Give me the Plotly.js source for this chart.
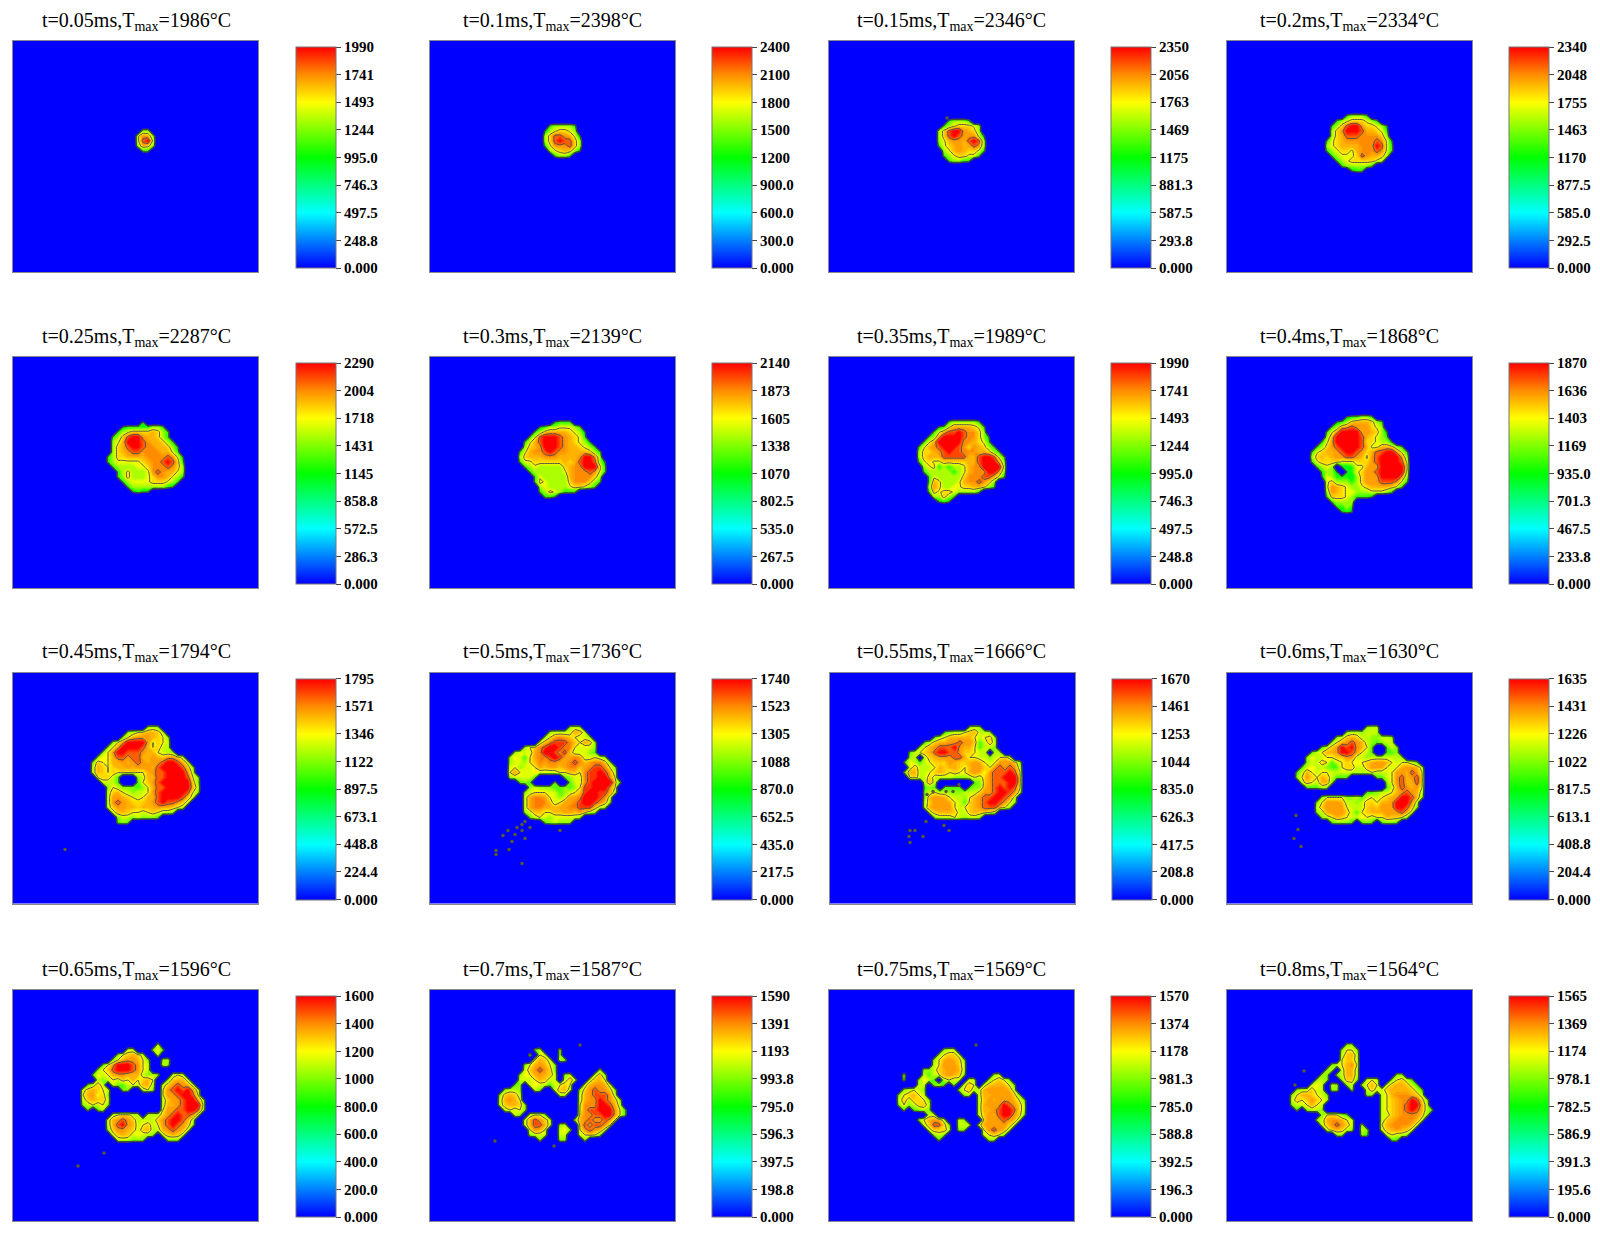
<!DOCTYPE html>
<html><head><meta charset="utf-8">
<script src="https://cdn.plot.ly/plotly-3.0.1.min.js"></script>
<style>html,body{margin:0;padding:0;background:#fff}#chart{width:1600px;height:1238px}</style>
</head><body><div id="chart"></div>
<script>
// Time stamps and peak temperatures
const times = ["0.05","0.1","0.15","0.2","0.25","0.3","0.35","0.4","0.45","0.5","0.55","0.6","0.65","0.7","0.75","0.8"];
const tmax = [1986,2398,2346,2334,2287,2139,1989,1868,1794,1736,1666,1630,1596,1587,1569,1564];
// Colour bar labels per panel
const tick01 = ["0.000","248.8","497.5","746.3","995.0","1244","1493","1741","1990"];
const tick02 = ["0.000","300.0","600.0","900.0","1200","1500","1800","2100","2400"];
const tick03 = ["0.000","293.8","587.5","881.3","1175","1469","1763","2056","2350"];
const tick04 = ["0.000","292.5","585.0","877.5","1170","1463","1755","2048","2340"];
const tick05 = ["0.000","286.3","572.5","858.8","1145","1431","1718","2004","2290"];
const tick06 = ["0.000","267.5","535.0","802.5","1070","1338","1605","1873","2140"];
const tick07 = ["0.000","248.8","497.5","746.3","995.0","1244","1493","1741","1990"];
const tick08 = ["0.000","233.8","467.5","701.3","935.0","1169","1403","1636","1870"];
const tick09 = ["0.000","224.4","448.8","673.1","897.5","1122","1346","1571","1795"];
const tick10 = ["0.000","217.5","435.0","652.5","870.0","1088","1305","1523","1740"];
const tick11 = ["0.000","208.8","417.5","626.3","835.0","1044","1253","1461","1670"];
const tick12 = ["0.000","204.4","408.8","613.1","817.5","1022","1226","1431","1635"];
const tick13 = ["0.000","200.0","400.0","600.0","800.0","1000","1200","1400","1600"];
const tick14 = ["0.000","198.8","397.5","596.3","795.0","993.8","1193","1391","1590"];
const tick15 = ["0.000","196.3","392.5","588.8","785.0","981.3","1178","1374","1570"];
const tick16 = ["0.000","195.6","391.3","586.9","782.5","978.1","1174","1369","1565"];
// Temperature class (0-9), as "row,col:classes"; the cooler classes sit higher in the later panels
const shareEarly = [0,0.46,0.54,0.66,0.73,0.79,0.83,0.86,0.92,1.0];
const shareLate = [0,0.58,0.64,0.7,0.75,0.8,0.83,0.86,0.92,1.0];
const field01 = ["8,14:33","9,13:4763","10,13:4894","11,13:3653","12,14:22"];
const field02 = ["7,12:233332","8,11:1345543","9,11:35887641","10,11:35898853","11,11:24777853","12,12:3456531","13,13:2332"];
const field03 = ["6,12:23332","7,11:23455543","8,10:358997653","9,10:3589877741","10,10:3467768983","11,10:2456766873","12,11:346765542","13,11:23455442","14,12:23322"];
const field04 = ["5,12:23332","6,10:234555432","7,9:235899755431","8,9:357999866542","9,9:356888777753","10,8:24567777778741","11,8:34566667779842","12,8:23455467778742","13,9:234445876653","14,10:2345555543","15,11:2333332","16,13:122"];
const field05 = ["3,14:1","4,10:122222332","5,9:23455556532","6,8:235899766532","7,8:3469998766532","8,8:35689987766531","9,8:35678877776642","10,7:2355666677778741","11,7:2344444567789852","12,8:233334457778753","13,9:23533347876643","14,9:23533345776432","15,10:234444555432","16,11:2333333321","17,12:1211"];
const field06 = ["3,13:1222","4,10:123344432","5,9:23566665431","6,8:248999876542","7,7:24689998765431","8,7:356799987665432","9,6:24677898776666532","10,6:35666777666679973","11,6:244555555656899831","12,7:23433333567799952","13,8:2333333467778742","14,9:24333336777753","15,9:25433335777532","16,10:343333455432","17,10:23543222","18,11:221"];
const field07 = ["3,12:2333332","4,10:1246666542","5,9:24688987753","6,8:2379999877531","7,7:24699999776542","8,6:2467899987576532","9,6:35567898877766532","10,6:356668888866899842","11,6:245445555566899973","12,7:34523233467799994","13,7:23333323467779973","14,8:2433333577788642","15,8:26533346778753","16,8:37533445566532","17,8:25455433332","18,9:33532","19,10:121"];
const field08 = ["2,12:122332","3,10:1235666532","4,9:23678777543","5,8:2479999776531","6,8:3699999865432","7,7:247999998554331","8,6:235789999864466532","9,5:24566789987568899742","10,5:35656778876478999973","11,5:24555544455578999984","12,6:2343.11244677999995","13,7:2331.1245778999994","14,7:143222135777999973","15,8:45333235777888742","16,8:4765433456666542","17,8:37654433344432","18,8:2555432221","19,9:23333","20,10:2232","21,11:121"];
const field09 = ["1,15:232","2,11:23456653","3,10:2467776542","4,8:247999974543","5,7:2479999864533","6,6:247998887664332","7,5:244688788667657753","8,4:25446676787677899863","9,4:365456676777689999852","10,4:365454545446788999973","11,5:45531...2366889999842","12,6:3331...1457899999952","13,7:2432221246889999963","14,7:3564323347899999842","15,7:377654346689999853","16,7:37876555678988753","17,7:3577665666766543","18,8:3565443454332","19,9:233232221","20,9:121"];
const field10 = ["1,16:232","2,12:23333653","3,11:2467654332","4,10:357888754652","5,7:245789987743332","6,5:23336799878533321","7,4:24314677898667633432","8,4:233245767766787567752","9,4:3423346566567756788742","10,4:4643343333445547889863","11,4:233331.....12337889974","12,6:121....1..13378999951","13,8:232221121248899974","14,7:2344433123458998863","15,7:367764323667999873","16,7:367775346678998752","17,7:36776656677888532","18,7:235544556656432","19,8:13432333332","20,11:123222"];
const field11 = ["1,16:232","2,11:1233456332","3,9:1346666643452","4,7:135667787751353","5,6:2467888976641332","6,4:1345689988755433.32","7,4:23.356777886443323453","8,3:143134555765567643477752","9,4:35333465665467754787873","10,3:266334565454467647888984","11,4:45335333322234357889995","12,7:363.......1257888995","13,7:121.1111.12267898984","14,7:23433222333577899873","15,7:2677643324678899873","16,7:3577764315678998742","17,7:367777434567888642","18,8:35666533565543","19,9:2333432332"];
const field12 = ["1,16:233","2,12:2332333","3,10:235653322332","4,9:2467876321233","5,7:13579897641..132","6,5:1346679987431..112","7,4:24334455773323333332","8,4:23354134544456776434431","9,3:1343321145533577743467763","10,2:13643443333333343334776874","11,2:24754653111.....1134786785","12,3:3543662..........24786685","13,4:11132...........13687674","14,16:112334678763","15,7:244442231343456799862","16,6:247776332355466799973","17,6:357777433356577799852","18,6:23677753145666777863","19,7:234654334434465542","20,9:12221.121.1221"];
const field13 = ["1,17:3","2,11:33...241","3,9:245653..3","4,8:24677642..23","5,6:1479998743..32","6,5:24589998743","7,4:14346776663232..343","8,5:323435464564..25663","9,3:1353.321343663.3578763","10,2:356543..22..342.47898973","11,2:467452..........47789984","12,2:356553..........357789973","13,2:234342..........366789994","14,3:1.13...........477889983","15,8:345533.33357898873","16,7:367875333357899863","17,7:368976345347898752","18,7:25776535633678763","19,8:356534332.35653","20,9:333222....222"];
const field14 = ["2,9:13...2","3,8:2.43..2","4,9:4653.32","5,7:2467642","6,7:3578752........2","7,6:24467653.23....352","8,6:33346533.353..3564","9,5:12.343313454..367763","10,3:2332..32..3563.25787752","11,2:25653.......33..36788873","12,2:36764...........367798752","13,2:356652..........477799863","14,3:34342..........4788999741","15,5:32.3442......5778899741","16,7:368753....267877874","17,7:368863.23..5878874","18,8:4764..342.478763","19,8:2333..33..34542","20,10:2...22...2"];
const field15 = ["2,11:233","3,10:24553","4,9:2467652","5,9:3477753","6,7:223567763","7,3:2...313467652.....23","8,3:1..2431.3433.33..24542","9,6:33.231.2.354.3566642","10,3:23432......245336777763","11,2:245643.......23.366777752","12,2:3535542.........3576777642","13,2:2423553.........3677798753","14,3:1.1232.........3667899853","15,8:33........3576899752","16,6:246763..32...57778763","17,7:358852.333.36777753","18,8:35553.22...478763","19,9:232.......34542","20,10:1.........22"];
const field16 = ["1,12:22","2,11:2442","3,11:3563","4,11:4553","5,9:234674","6,8:23.3663","7,7:22.23663.......22","8,6:232..2552.343..24531","9,5:343.32.23.2464.3566531","10,2:233533.22..2..353356666531","11,1:24665432.......22.346777653","12,1:35457543..........3456779852","13,1:2334643...........3456789963","14,2:1.2332...........34567898631","15,7:245421......3356777752","16,6:23677643.....356777763","17,7:3578753.2...46777763","18,8:356532.32..3567653","19,10:22...21...34332","20,21:11"];
// Isolated hot spots (x, y in panel units)
const spots03 = [[118,77]];
const spots09 = [[52,177]];
const spots10 = [[95,149],[92,152],[78,158],[85,162],[73,163],[87,155],[92,158],[82,169],[95,166],[79,177],[66,178],[66,182],[92,191],[100,155],[130,158]];
const spots11 = [[80,158],[85,158],[93,164],[79,164],[80,170],[119,158],[114,153],[96,149],[129,112],[123,119],[116,119],[103,119],[97,122]];
const spots12 = [[71,157],[67,166],[74,174],[69,143]];
const spots13 = [[65,176],[91,163]];
const spots14 = [[65,151],[124,156],[150,55]];
const spots15 = [[147,55]];
const spots16 = [[68,95],[77,81]];
const edgeShare = 0.44;
const contourShares = [edgeShare,0.75,0.89];
const jet = [[0,'#0000ff'],[0.125,'#0080ff'],[0.25,'#00ffff'],[0.375,'#00ff80'],[0.5,'#00ff00'],[0.625,'#80ff00'],[0.75,'#ffff00'],[0.875,'#ff8c00'],[1,'#ff0000']];
// Same ramp for the filled field, with everything below the edge level held at background blue.
// Plotly spreads a fill colorscale over the contour range (edge level - half step .. top + half step).
const fillLo=edgeShare-0.01, fillSpan=1.01-fillLo;
const fillScale = [[0,'#0000ff'],[0.017,'#0000ff'],[0.0171,'#00ff3d']]
  .concat(jet.filter(s=>s[0]>=0.5).map(s=>[(s[0]-fillLo)/fillSpan,s[1]])).concat([[1,'#ff0000']]);

const ticks=[tick01,tick02,tick03,tick04,tick05,tick06,tick07,tick08,tick09,tick10,tick11,tick12,tick13,tick14,tick15,tick16];
const fields=[field01,field02,field03,field04,field05,field06,field07,field08,field09,field10,field11,field12,field13,field14,field15,field16];
const spots={2:spots03,8:spots09,9:spots10,10:spots11,11:spots12,12:spots13,13:spots14,14:spots15,15:spots16};
const W=1600,H=1238,PW=245,PH=231;
const colL=[13,430,829,1227],rowT=[41,357,672.5,990],barL=[296,712,1111,1509],titleX=[136,552,951,1349];
const gridX=[],gridY=[];
for(let c=0;c<34;c++)gridX.push(60+5*c);
for(let r=0;r<25;r++)gridY.push(50+5*r);
const data=[],layout={width:W,height:H,margin:{l:0,r:0,t:0,b:0},paper_bgcolor:'#fff',plot_bgcolor:'#0000ff',showlegend:false,annotations:[],font:{family:'Liberation Serif',color:'#000'}};
fields.forEach((rows,i)=>{
  const col=i%4,row=Math.floor(i/4),maxV=Number(ticks[i][8]);
  const share=i<8?shareEarly:shareLate;
  const z=gridY.map(()=>gridX.map(()=>0));
  rows.forEach(s=>{
    const [pos,cls]=s.split(':');const [r,c0]=pos.split(',').map(Number);
    [...cls].forEach((ch,k)=>{if(ch!=='.')z[r][c0+k]=share[+ch]*maxV;});
  });
  const n=i+1,xa='x'+(n>1?n:''),ya='y'+(n>1?n:'');
  const shift=(i===10)?1:0;
  const L=colL[col]+shift,T=rowT[row];
  layout['xaxis'+(n>1?n:'')]={domain:[L/W,(L+PW)/W],range:[0,PW],anchor:ya,showgrid:false,zeroline:false,showticklabels:false,ticks:'',showline:true,mirror:true,linecolor:'#8a8a8a',linewidth:1};
  layout['yaxis'+(n>1?n:'')]={domain:[1-(T+PH)/H,1-T/H],range:[PH,0],anchor:xa,showgrid:false,zeroline:false,showticklabels:false,ticks:'',showline:true,mirror:true,linecolor:'#8a8a8a',linewidth:1};
  data.push({type:'heatmap',x:gridX,y:gridY,z:z,xaxis:xa,yaxis:ya,zmin:0,zmax:maxV,colorscale:jet,hoverinfo:'skip',
    colorbar:{x:(barL[col]+shift)/W,xanchor:'left',xpad:0,y:1-(T+6)/H,yanchor:'top',ypad:0,len:221,lenmode:'pixels',thickness:40,thicknessmode:'pixels',
      outlinecolor:'#777',outlinewidth:1,tickmode:'array',tickvals:ticks[i].map(Number),ticktext:ticks[i],ticks:'outside',ticklen:5,tickcolor:'#444',tickwidth:1,
      tickfont:{family:'Liberation Serif',size:15,color:'#000',weight:700}}});
  data.push({type:'contour',x:gridX,y:gridY,z:z,xaxis:xa,yaxis:ya,zmin:0,zmax:maxV,showscale:false,autocontour:false,hoverinfo:'skip',colorscale:fillScale,
    contours:{start:edgeShare*maxV,end:1.0*maxV,size:0.02*maxV,coloring:'fill',showlines:false,showlabels:false},line:{width:0,smoothing:0}});
  contourShares.forEach((sh,k)=>{
    data.push({type:'contour',x:gridX,y:gridY,z:z,xaxis:xa,yaxis:ya,zmin:0,zmax:maxV,showscale:false,autocontour:false,hoverinfo:'skip',
      contours:{start:sh*maxV,end:sh*maxV,size:maxV,coloring:'none',showlabels:false},line:{color:k===0?'#404a38':'#505050',width:k===0?1.6:1,smoothing:0}});
  });
  if(spots[i])data.push({type:'scatter',mode:'markers',x:spots[i].map(p=>p[0]),y:spots[i].map(p=>p[1]),xaxis:xa,yaxis:ya,hoverinfo:'skip',marker:{size:3.5,color:'#5a5a30'}});
  layout.annotations.push({xref:'paper',yref:'paper',x:titleX[col]/W,y:1-(T-20)/H,xanchor:'center',yanchor:'middle',showarrow:false,
    text:'t='+times[i]+'ms,T<sub>max</sub>='+tmax[i]+'°C',font:{family:'Liberation Serif',size:20,color:'#000'}});
});
Plotly.newPlot('chart',data,layout,{displayModeBar:false,staticPlot:true});
</script></body></html>
